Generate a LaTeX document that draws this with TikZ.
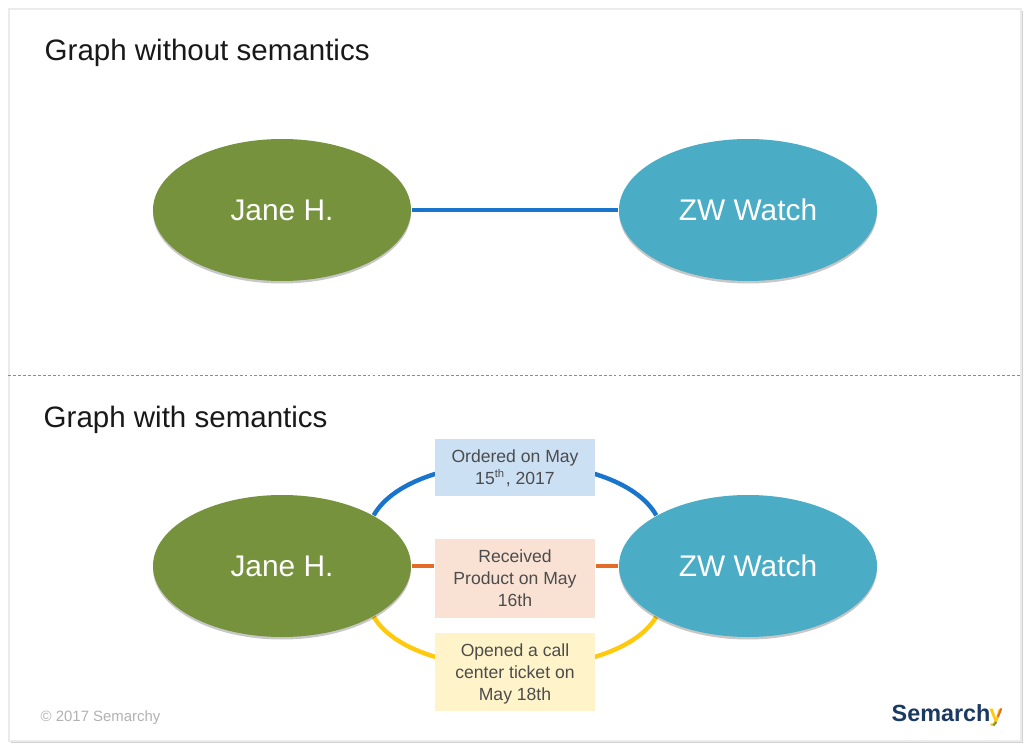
\documentclass[tikz,border=0pt]{standalone}
\usepackage{fontspec}
\setmainfont{Liberation Sans}
\usepackage{xcolor}
\usetikzlibrary{shapes.geometric, backgrounds, shadows}
\definecolor{olive}{HTML}{77923C}
\definecolor{teal}{HTML}{4BACC6}
\definecolor{navy}{HTML}{1B3A63}
\definecolor{linkblue}{HTML}{1874CD}
\definecolor{linkorange}{HTML}{E36C28}
\definecolor{linkyellow}{HTML}{FFC90E}
\begin{document}
\begin{tikzpicture}[
    card/.style={draw=black!8, line width=0.3pt, fill=white, minimum width=10.12cm, minimum height=7.32cm, drop shadow={shadow xshift=0.02cm, shadow yshift=-0.02cm, opacity=0.18, fill=black}},
    person/.style={ellipse, fill=olive, text=white, minimum width=2.58cm, minimum height=1.42cm, inner sep=0pt, font=\fontsize{8.5}{10}\selectfont, drop shadow={shadow xshift=0cm, shadow yshift=-0.025cm, opacity=0.22, fill=black}},
    product/.style={person, fill=teal},
    title/.style={anchor=base west, inner sep=0pt, text=black!90, font=\fontsize{8.4}{10}\selectfont},
    rel/.style={minimum width=1.6cm, inner sep=0pt, align=center, text=black!70, text depth=0pt, font=\fontsize{5}{6.26}\selectfont},
    link/.style={line width=1.25pt},
    brand/.style={anchor=base west, inner sep=0pt, font=\bfseries\fontsize{6.65}{8}\selectfont}
]
    \useasboundingbox (0, 0) rectangle (10.3, 7.5);
    \begin{scope}[on background layer]
        \node[card] (page) at (5.15, 3.75) {};
    \end{scope}

    % Upper graph
    \node[title] (top) at (0.44, 6.89) {Graph without semantics};
    \node[person] (jane1) at (2.82, 5.40) {Jane H.};
    \node[product] (zw1) at (7.48, 5.40) {ZW Watch};

    % Divider
    \draw[black!45, line width=0.2pt, dash pattern=on 0.8pt off 0.6pt] (page.west |- 0, 3.745) -- (page.east |- 0, 3.745);

    % Lower graph
    \node[title] (bottom) at (0.43, 3.23) {Graph with semantics};
    \node[person] (jane2) at (2.82, 1.84) {Jane H.};
    \node[product] (zw2) at (7.48, 1.84) {ZW Watch};

    \node[rel, fill=linkblue!22, minimum height=0.57cm] (ordered) at (5.15, 2.825) {Ordered on May\\15\textsuperscript{\fontsize{3.2}{3}\selectfont th}, 2017};
    \node[rel, fill=linkorange!20, minimum height=0.79cm] (received) at (5.15, 1.72) {Received\\Product on May\\16th};
    \node[rel, fill=linkyellow!22, minimum height=0.78cm] (opened) at (5.15, 0.78) {Opened a call\\center ticket on\\May 18th};

    % Connectors
    \begin{scope}[on background layer]
        \draw[link, linkblue] (jane1) -- (zw1);
        \draw[link, linkblue] (jane2.north east) .. controls +(0.4, 0.7) and +(-0.4, 0.7) .. (zw2.north west);
        \draw[link, linkorange] (jane2) -- (received.west |- jane2);
        \draw[link, linkorange] (received.east |- zw2) -- (zw2);
        \draw[link, linkyellow] (jane2.south east) .. controls +(0.4, -0.68) and +(-0.4, -0.68) .. (zw2.south west);
    \end{scope}

    % Footer
    \node[anchor=base west, inner sep=0pt, text=black!30, font=\fontsize{4.25}{5}\selectfont] (copy) at (0.40, 0.29) {© 2017 Semarchy};
    \node[brand, text=navy] (logo) at (8.91, 0.29) {Semarch};
    \node[brand, text=linkyellow, xshift=-0.025cm] (logoy) at (logo.base east) {y};
    \draw[linkorange, line width=0.55pt] ([shift={(0.02, 0.04)}]logoy.base) -- ([shift={(0.055, 0.125)}]logoy.base);
    \draw[olive, line width=0.55pt] ([shift={(0.005, -0.01)}]logoy.base) -- ([shift={(-0.025, -0.045)}]logoy.base);
\end{tikzpicture}
\end{document}
